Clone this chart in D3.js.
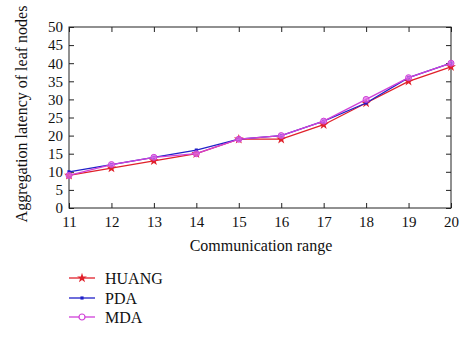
<!DOCTYPE html>
<html><head><meta charset="utf-8">
<script src="https://cdn.jsdelivr.net/npm/d3@7"></script>
<style>body{margin:0;background:#fff}svg{display:block}text{font-family:"Liberation Serif","DejaVu Serif",serif;fill:#111}</style>
</head><body><svg id="c" width="474" height="343"></svg>
<script>
const categories = [11,12,13,14,15,16,17,18,19,20];
const huang = [9,11,13,15,19,19,23,29,35,39];
const pda   = [10,12,14,16,19,20,24,29,36,40];
const mda   = [9,12,14,15,19,20,24,30,36,40];
const yTicks = [0,5,10,15,20,25,30,35,40,45,50];
const seriesNames = ["HUANG","PDA","MDA"];
const seriesColors = ["#e0202a","#2020c8","#d040d8"];

const svg = d3.select("#c");
const L=69,R=451,T=27,B=208;
const x = d3.scaleLinear().domain([11,20]).range([L,R]);
const y = d3.scaleLinear().domain([0,50]).range([B,T]);

const g = svg.append("g");
g.append("rect").attr("x",L).attr("y",T).attr("width",R-L).attr("height",B-T).attr("fill","none").attr("stroke","#222").attr("stroke-width",1);

const xa = g.append("g").attr("transform",`translate(0,${B})`).call(d3.axisBottom(x).tickValues(categories).tickSize(-5).tickPadding(8).tickFormat(d3.format("d")));
const xt = g.append("g").attr("transform",`translate(0,${T})`).call(d3.axisTop(x).tickValues(categories).tickSize(-5).tickFormat(""));
const ya = g.append("g").attr("transform",`translate(${L},0)`).call(d3.axisLeft(y).tickValues(yTicks).tickSize(-5).tickPadding(6));
const yr = g.append("g").attr("transform",`translate(${R},0)`).call(d3.axisRight(y).tickValues(yTicks).tickSize(-5).tickFormat(""));
[xa,xt,ya,yr].forEach(a=>{a.select(".domain").remove();a.selectAll("line").attr("stroke","#222");a.selectAll("text").attr("font-size",15).attr("font-family","Liberation Serif").attr("fill","#111");});

svg.append("text").attr("x",(L+R)/2+1).attr("y",251).attr("text-anchor","middle").attr("font-size",16).text("Communication range");
svg.append("text").attr("transform","translate(27,114) rotate(-90)").attr("text-anchor","middle").attr("font-size",16).text("Aggregation latency of leaf nodes");

const data = [huang,pda,mda];
const line = d3.line().x((d,i)=>x(categories[i])).y(d=>y(d));
const star = d3.symbol().type(d3.symbolStar).size(30);
const cross = d3.symbol().type(d3.symbolSquare).size(10);

data.forEach((vals,k)=>{
  const c = seriesColors[k];
  g.append("path").datum(vals).attr("d",line).attr("fill","none").attr("stroke",c).attr("stroke-width",1.3);
  const pts = g.append("g").selectAll("g").data(vals).join("g").attr("transform",(d,i)=>`translate(${x(categories[i])},${y(d)})`);
  if(k===0) pts.append("path").attr("d",star).attr("fill",c);
  if(k===1) pts.append("path").attr("d",cross).attr("fill",c);
  if(k===2) pts.append("circle").attr("r",3).attr("fill","#e070e8").attr("fill-opacity",0.7).attr("stroke",c).attr("stroke-width",1);
});

const ly=[278,298,317];
seriesNames.forEach((n,k)=>{
  const c=seriesColors[k];
  const lg=svg.append("g").attr("transform",`translate(69,${ly[k]})`);
  lg.append("line").attr("x1",0).attr("x2",26).attr("stroke",c).attr("stroke-width",1.3);
  const m=lg.append("g").attr("transform","translate(13,0)");
  if(k===0) m.append("path").attr("d",star).attr("fill",c);
  if(k===1) m.append("path").attr("d",cross).attr("fill",c);
  if(k===2) m.append("circle").attr("r",3).attr("fill","#fff").attr("stroke",c).attr("stroke-width",1.2);
  lg.append("text").attr("x",36).attr("y",5.5).attr("font-size",16).text(n);
});
</script></body></html>
